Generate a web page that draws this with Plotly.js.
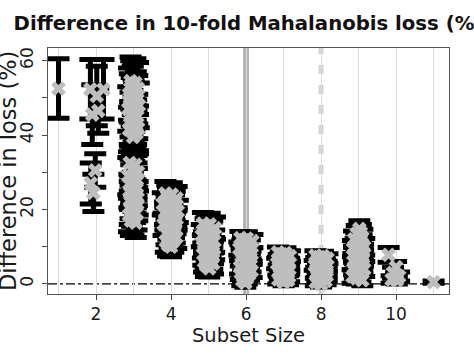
<!DOCTYPE html>
<html>
<head>
<meta charset="utf-8">
<script src="https://cdn.plot.ly/plotly-3.0.1.min.js"></script>
<style>html,body{margin:0;padding:0;background:#fff;overflow:hidden}#chart{width:474px;height:355px}</style>
</head>
<body>
<div id="chart"></div>
<script>
// Subset size 1
const x1 = [1.00];
const y1 = [52.5];
const e1 = [8.0];
// Subset size 2
const x2 = [1.85, 2.20, 2.02, 1.90, 2.06, 1.98, 1.86, 1.93];
const y2 = [52.3, 52.3, 50.5, 45.5, 46.5, 30.5, 27.0, 24.5];
const e2 = [8.0, 8.0, 8.0, 8.0, 6.0, 4.5, 5.5, 5.0];
// Subset size 3
const x3 = [2.92, 3.05, 3.12, 2.98, 2.88, 3.06, 2.95, 3.14, 3.02, 2.86, 2.97, 3.10, 3.00, 2.91, 3.05, 2.96, 3.08, 2.99,
            3.00, 2.90, 3.10, 3.00, 2.92, 3.07, 2.88, 3.12, 2.94, 3.03,
            2.90, 3.05, 2.97, 3.12, 2.86, 3.02, 2.94, 3.09, 2.89, 3.00, 3.11, 2.92, 3.04, 2.96, 3.08, 2.88, 3.00, 3.06, 2.93,
            3.00, 2.92, 3.08, 2.98, 3.05, 2.90, 3.10, 2.97, 3.04, 2.91];
const y3 = [54.5, 54.0, 52.5, 52.0, 51.0, 50.5, 49.0, 48.0, 47.5, 47.0, 46.0, 45.0, 44.0, 43.0, 42.0, 41.0, 40.5, 39.5,
            53.0, 50.0, 49.5, 48.5, 45.5, 43.5, 41.5, 41.8, 53.5, 45.0,
            32.5, 32.0, 31.0, 30.0, 29.0, 28.0, 27.0, 26.0, 25.0, 24.0, 23.0, 22.0, 21.0, 20.0, 19.0, 18.5, 17.5, 16.5, 17.0,
            30.5, 28.5, 27.5, 25.5, 23.5, 20.5, 21.5, 18.0, 29.5, 24.5];
const e3 = [6.5, 6.5, 7.0, 6.5, 7.0, 6.5, 6.5, 6.0, 6.5, 6.0, 6.0, 6.0, 6.0, 6.0, 6.0, 6.0, 6.0, 6.0,
            6.5, 6.5, 6.5, 6.5, 6.0, 6.0, 6.0, 6.0, 6.5, 6.0,
            5.0, 5.0, 5.0, 5.0, 5.0, 5.0, 5.0, 5.0, 4.5, 4.5, 4.5, 4.5, 4.5, 4.5, 4.5, 4.5, 4.5, 4.0, 4.0,
            5.0, 5.0, 5.0, 4.5, 4.5, 4.5, 4.5, 4.5, 5.0, 4.5];
// Subset size 4
const x4 = [3.85, 4.02, 4.15, 3.92, 3.78, 4.08, 3.97, 4.18, 3.84, 4.04, 3.92, 4.12, 3.80, 4.00, 4.10, 3.88, 3.96, 4.06, 3.92, 4.00,
            3.90, 4.10, 3.88, 4.05, 3.95, 4.15, 3.85, 4.08, 3.93, 4.03, 4.14, 3.86, 4.00];
const y4 = [24.3, 24.0, 23.0, 22.5, 21.5, 21.0, 20.0, 19.5, 19.0, 18.0, 17.0, 16.5, 16.0, 15.0, 14.0, 13.5, 12.5, 11.5, 10.5, 10.0,
            23.5, 22.0, 20.5, 19.5, 18.5, 17.5, 17.5, 15.5, 15.0, 13.0, 12.5, 11.5, 11.0];
const e4 = [3.2, 3.2, 3.2, 3.2, 3.0, 3.0, 3.0, 3.0, 3.0, 3.0, 3.0, 3.0, 3.0, 3.0, 3.0, 3.0, 3.0, 3.0, 3.0, 2.7,
            3.0, 3.0, 3.0, 3.0, 3.0, 3.0, 3.0, 3.0, 3.0, 3.0, 3.0, 3.0, 3.0];
// Subset size 5
const x5 = [4.85, 5.03, 5.17, 4.92, 5.08, 4.82, 4.98, 5.15, 4.88, 5.05, 4.95, 5.12, 4.86, 5.00, 5.08, 4.93, 5.02,
            4.95, 5.10, 4.90, 5.05, 4.85, 5.15, 4.92, 5.10, 4.96, 5.00, 5.12, 4.88];
const y5 = [16.2, 16.0, 15.0, 14.5, 13.5, 13.0, 12.0, 11.5, 11.0, 10.0, 9.0, 8.5, 8.0, 7.0, 6.0, 5.0, 4.2,
            15.5, 14.0, 12.5, 11.0, 10.0, 9.5, 7.5, 7.0, 6.5, 5.5, 5.5, 6.0];
const e5 = [3.0, 3.0, 3.0, 3.0, 3.0, 3.0, 3.0, 3.0, 3.0, 3.0, 3.0, 3.0, 3.0, 3.0, 3.0, 3.0, 2.3,
            3.0, 3.0, 3.0, 3.0, 3.0, 3.0, 3.0, 3.0, 3.0, 2.8, 2.8, 2.8];
// Subset size 6
const x6 = [5.85, 6.02, 6.17, 5.92, 6.10, 5.82, 6.00, 6.15, 5.88, 6.05, 5.95, 6.12, 5.84, 6.00, 6.08, 5.92, 5.98,
            5.95, 6.08, 5.90, 6.05, 5.90, 6.12, 5.97, 6.07, 5.86, 6.15, 6.02, 5.90];
const y6 = [12.3, 12.2, 11.5, 11.0, 10.0, 9.5, 9.0, 8.0, 7.5, 6.5, 5.5, 5.0, 4.5, 3.5, 2.5, 2.0, 0.3,
            11.8, 10.5, 10.0, 8.5, 8.5, 7.0, 6.0, 4.0, 3.0, 3.5, 1.5, 1.0];
const e6 = [1.8, 1.8, 1.8, 1.8, 1.8, 1.8, 1.8, 1.8, 1.8, 1.8, 1.8, 1.8, 1.8, 1.8, 1.5, 1.5, 1.2,
            1.8, 1.8, 1.8, 1.8, 1.8, 1.8, 1.8, 1.8, 1.8, 1.8, 1.5, 1.5];
// Subset size 7
const x7 = [6.85, 7.05, 7.17, 6.92, 7.10, 6.83, 7.00, 7.15, 6.88, 7.05, 6.95, 7.12, 6.86, 7.00,
            6.95, 7.08, 6.87, 7.02, 7.15, 6.92, 7.05, 6.90, 7.15, 6.97, 7.08];
const y7 = [8.5, 8.3, 7.5, 7.0, 6.0, 5.5, 5.0, 4.0, 3.5, 2.5, 1.5, 1.0, 1.2, 0.5,
            8.0, 7.0, 6.5, 6.0, 5.5, 4.5, 3.5, 2.5, 2.0, 3.0, 1.5];
const e7 = [1.4, 1.4, 1.4, 1.4, 1.4, 1.4, 1.4, 1.4, 1.4, 1.4, 1.4, 1.2, 1.2, 1.0,
            1.4, 1.4, 1.4, 1.4, 1.4, 1.4, 1.4, 1.4, 1.4, 1.4, 1.2];
// Subset size 8
const x8 = [7.85, 8.05, 8.17, 7.92, 8.10, 7.83, 8.00, 8.15, 7.88, 8.05, 7.95, 8.12, 7.86, 8.00,
            7.95, 8.08, 7.87, 8.02, 8.15, 7.92, 8.05, 7.90, 8.15, 8.00];
const y8 = [7.6, 7.5, 6.8, 6.5, 5.5, 5.0, 4.5, 3.5, 3.0, 2.0, 1.2, 0.8, 0.5, 0.0,
            7.2, 6.2, 5.8, 5.5, 4.8, 4.0, 3.0, 2.0, 2.2, 1.5];
const e8 = [1.3, 1.3, 1.3, 1.3, 1.3, 1.3, 1.3, 1.3, 1.3, 1.3, 1.2, 1.0, 1.0, 0.8,
            1.3, 1.3, 1.3, 1.3, 1.3, 1.3, 1.3, 1.3, 1.3, 1.2];
// Subset size 9
const x9 = [9.02, 8.95, 9.10, 8.88, 9.00, 9.15, 8.85, 9.05, 8.92, 9.12, 8.86, 9.00, 9.15, 8.90, 9.05, 8.95, 9.10, 8.84,
            9.06, 8.94, 9.08, 8.92, 9.02, 9.12, 8.88, 9.00, 9.08, 8.95, 9.10, 9.00, 8.88];
const y9 = [14.8, 13.5, 12.5, 12.0, 11.0, 10.0, 9.5, 8.5, 7.5, 7.0, 6.0, 5.0, 4.0, 3.5, 2.5, 1.5, 1.0, 2.0,
            13.8, 11.5, 11.0, 10.0, 9.5, 8.5, 8.0, 7.0, 6.0, 4.5, 5.5, 3.0, 4.5];
const e9 = [2.2, 2.2, 2.2, 2.2, 2.2, 2.2, 2.2, 2.2, 2.2, 2.2, 2.2, 2.2, 2.0, 2.0, 2.0, 1.5, 1.5, 1.8,
            2.2, 2.2, 2.2, 2.2, 2.2, 2.2, 2.2, 2.2, 2.2, 2.0, 2.0, 2.0, 2.0];
// Subset size 10
const x10 = [9.80, 10.00, 9.92, 10.08, 9.88, 10.02];
const y10 = [7.8, 4.5, 3.0, 2.0, 1.2, 1.0];
const e10 = [2.0, 1.5, 1.5, 1.2, 1.0, 1.0];
// Subset size 11
const x11 = [11.00];
const y11 = [0.5];
const e11 = [0.3];

const xTicks = [2, 4, 6, 8, 10];
const yTicks = [0, 20, 40, 60];
const chosenSize = 6;
const altSize = 8;

const allX = [].concat(x1, x2, x3, x4, x5, x6, x7, x8, x9, x10, x11);
const allY = [].concat(y1, y2, y3, y4, y5, y6, y7, y8, y9, y10, y11);
const allE = [].concat(e1, e2, e3, e4, e5, e6, e7, e8, e9, e10, e11);

const FONT = 'DejaVu Sans, Verdana, sans-serif';

const trace = {
  type: 'scatter', mode: 'markers',
  x: allX, y: allY,
  marker: {symbol: 'x', size: 13, color: '#bebebe', line: {width: 0}},
  error_y: {type: 'data', array: allE, visible: true, color: '#000000', thickness: 5, width: 11},
  hoverinfo: 'skip', showlegend: false
};

const layout = {
  width: 474, height: 355,
  margin: {l: 48, r: 25, t: 48, b: 61},
  paper_bgcolor: '#ffffff', plot_bgcolor: '#ffffff',
  font: {family: FONT, color: '#1a1a1a', size: 17},
  title: {text: 'Difference in 10-fold Mahalanobis loss (%)', font: {family: FONT, size: 19.7, color: '#111', weight: 'bold'},
          x: 0.5, xref: 'paper', xanchor: 'center', y: 0.935, yref: 'container', yanchor: 'middle'},
  xaxis: {
    range: [0.72, 11.41], tickvals: xTicks, ticks: 'outside', ticklen: 5, tickcolor: '#444',
    showgrid: true, gridcolor: '#dcdcdc', gridwidth: 1,
    minor: {dtick: 1, tick0: 0, showgrid: true, gridcolor: '#dcdcdc', gridwidth: 1, ticks: ''},
    showline: true, mirror: true, linecolor: '#555', linewidth: 1, zeroline: false,
    tickfont: {size: 17, family: FONT},
    title: {text: 'Subset Size', font: {size: 19.5, family: FONT}, standoff: 3},
    automargin: false
  },
  yaxis: {
    range: [-2.7, 63.4], tickvals: yTicks, ticks: 'outside', ticklen: 5, tickcolor: '#444', tickangle: -90,
    ticklabelstandoff: 2,
    minor: {dtick: 10, tick0: 0, ticks: 'outside', ticklen: 5, tickcolor: '#444', showgrid: false},
    showgrid: false, showline: true, mirror: true, linecolor: '#555', linewidth: 1, zeroline: false,
    tickfont: {size: 17, family: FONT},
    automargin: false
  },
  annotations: [
    {text: 'Difference in loss (%)', textangle: -90, showarrow: false,
     xref: 'paper', yref: 'paper', x: -0.0998, y: 0.5, xanchor: 'center', yanchor: 'middle',
     font: {size: 22.5, family: FONT, color: '#1a1a1a'}}
  ],
  shapes: [
    {type: 'line', xref: 'x', yref: 'paper', x0: chosenSize, x1: chosenSize, y0: 0, y1: 1,
     line: {color: '#b3b3b3', width: 6}, layer: 'between'},
    {type: 'line', xref: 'x', yref: 'paper', x0: altSize, x1: altSize, y0: 0, y1: 1,
     line: {color: '#d3d3d3', width: 5, dash: '9px,11px'}, layer: 'between'},
    {type: 'line', xref: 'paper', yref: 'y', x0: 0, x1: 1, y0: 0, y1: 0,
     line: {color: '#000000', width: 1.2, dash: 'dashdot'}, layer: 'between'}
  ]
};

Plotly.newPlot('chart', [trace], layout, {staticPlot: true, displayModeBar: false});
</script>
</body>
</html>
